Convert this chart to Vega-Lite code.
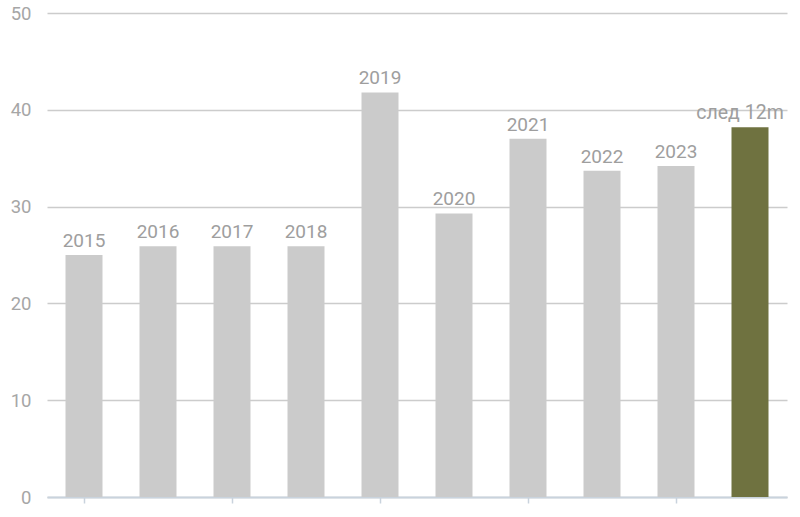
{
  "$schema": "https://vega.github.io/schema/vega-lite/v6.json",
  "autosize": "none",
  "width": 740,
  "height": 484,
  "padding": {"left": 47, "top": 13, "right": 13, "bottom": 20},
  "background": "white",
  "data": {
    "values": [
      {"period": "2015", "value": 25.0, "kind": "past"},
      {"period": "2016", "value": 25.9, "kind": "past"},
      {"period": "2017", "value": 25.9, "kind": "past"},
      {"period": "2018", "value": 25.9, "kind": "past"},
      {"period": "2019", "value": 41.8, "kind": "past"},
      {"period": "2020", "value": 29.3, "kind": "past"},
      {"period": "2021", "value": 37.0, "kind": "past"},
      {"period": "2022", "value": 33.7, "kind": "past"},
      {"period": "2023", "value": 34.2, "kind": "past"},
      {"period": "след 12m", "value": 38.2, "kind": "next"}
    ]
  },
  "encoding": {
    "x": {
      "field": "period",
      "type": "nominal",
      "sort": null,
      "scale": {"paddingInner": 0.5, "paddingOuter": 0.25},
      "axis": {
        "title": null,
        "labels": false,
        "values": ["2015", "2017", "2019", "2021", "2023"],
        "domainColor": "#c9d3dd",
        "domainWidth": 2,
        "tickColor": "#c9d3dd",
        "tickSize": 6,
        "tickWidth": 1.5,
        "grid": false
      }
    },
    "y": {
      "field": "value",
      "type": "quantitative",
      "scale": {"domain": [0, 50], "nice": false},
      "axis": {
        "title": null,
        "values": [0, 10, 20, 30, 40, 50],
        "domain": false,
        "ticks": false,
        "labelPadding": 16,
        "labelFont": "Roboto",
        "labelFontSize": 18.5,
        "labelColor": "#a6a6a6",
        "gridColor": "#cccccc",
        "gridWidth": 1.5
      }
    }
  },
  "layer": [
    {
      "mark": {"type": "bar"},
      "encoding": {
        "color": {
          "field": "kind",
          "type": "nominal",
          "scale": {"domain": ["past", "next"], "range": ["#cbcbcb", "#6f7240"]},
          "legend": null
        }
      }
    },
    {
      "transform": [{"filter": "datum.kind === 'past'"}],
      "mark": {
        "type": "text",
        "baseline": "alphabetic",
        "dy": -8,
        "font": "Roboto",
        "fontSize": 19,
        "color": "#9e9e9e"
      },
      "encoding": {"text": {"field": "period"}}
    },
    {
      "transform": [{"filter": "datum.kind === 'next'"}],
      "mark": {
        "type": "text",
        "baseline": "alphabetic",
        "dy": -8,
        "dx": -10,
        "font": "Roboto",
        "fontSize": 19.5,
        "color": "#9e9e9e"
      },
      "encoding": {"text": {"field": "period"}}
    }
  ],
  "config": {"view": {"stroke": null}}
}
